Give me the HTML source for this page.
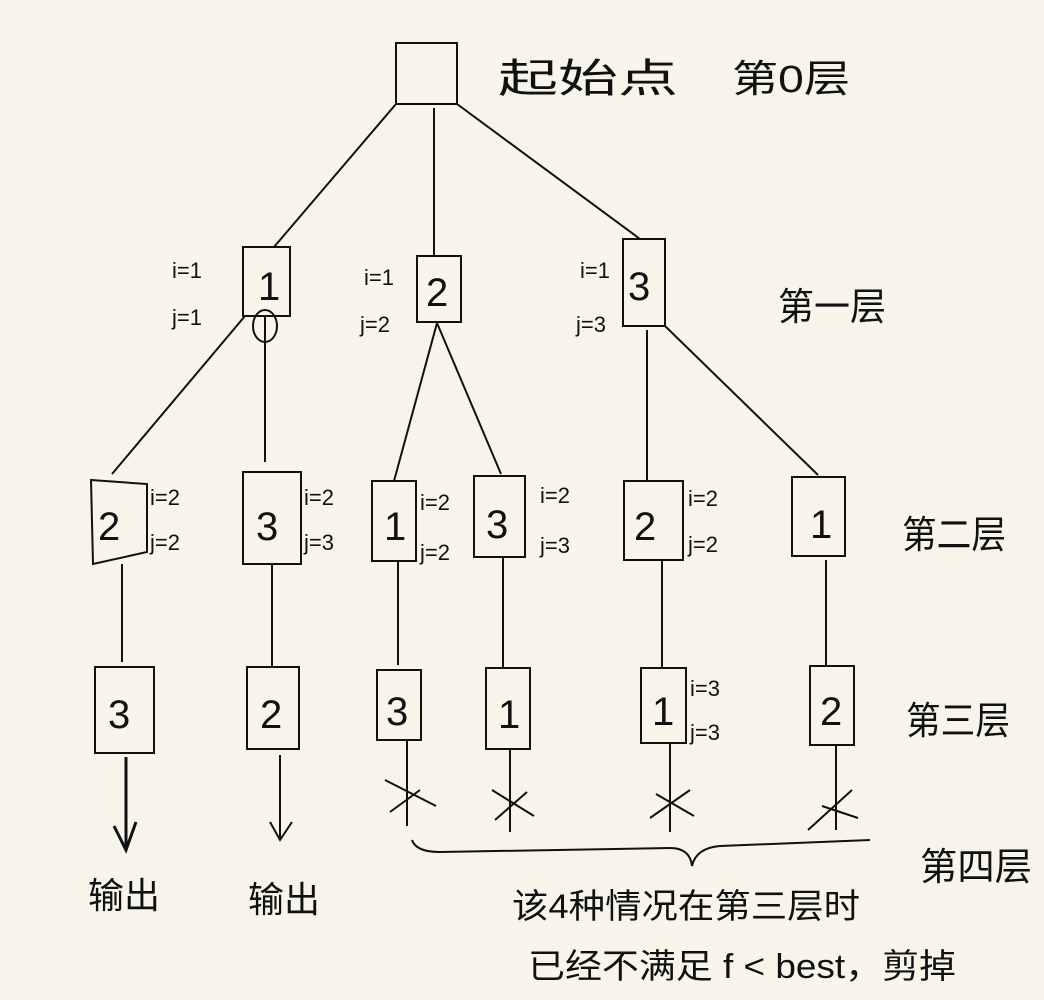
<!DOCTYPE html>
<html><head><meta charset="utf-8"><style>
html,body{margin:0;padding:0;background:#f7f5e9;}
svg{display:block}
text{font-family:"Liberation Sans","Noto Sans CJK SC",sans-serif;fill:#111}
</style></head><body>
<svg width="1044" height="1000" viewBox="0 0 1044 1000">
<rect width="1044" height="1000" fill="#f7f5e9"/>
<g fill="none" stroke="#111" stroke-width="2">
<rect x="396" y="43" width="61" height="61"/>
<rect x="243" y="247" width="47" height="69"/>
<rect x="417" y="256" width="44" height="66"/>
<rect x="623" y="239" width="42" height="87"/>
<polygon points="91,480 147,484 147,552 93,564"/>
<rect x="243" y="472" width="58" height="92"/>
<rect x="372" y="481" width="44" height="80"/>
<rect x="474" y="476" width="51" height="81"/>
<rect x="624" y="481" width="59" height="79"/>
<rect x="792" y="477" width="53" height="79"/>
<rect x="95" y="667" width="59" height="86"/>
<rect x="247" y="667" width="52" height="82"/>
<rect x="377" y="670" width="44" height="70"/>
<rect x="486" y="668" width="44" height="81"/>
<rect x="641" y="668" width="45" height="75"/>
<rect x="810" y="666" width="44" height="79"/>
<path d="M396 104 L274 247 M434 108 L434 256 M457 104 L640 239"/>
<path d="M245 316 L112 474 M265 316 L265 462"/>
<ellipse cx="265" cy="326" rx="12" ry="16"/>
<path d="M437 323 L394 481 M437 323 L501 474 M647 330 L647 481 M665 326 L818 475"/>
<path d="M122 564 L122 662 M272 564 L272 667 M398 561 L398 665 M503 557 L503 668 M662 560 L662 668 M826 560 L826 666"/>
<path d="M126 757 L126 850 M114 826 L126 850 L136 822" stroke-width="3"/>
<path d="M280 755 L280 840 M270 822 L280 840 L292 822"/>
<path d="M407 740 L407 826 M385 780 L436 806 M390 812 L420 790"/>
<path d="M510 749 L510 832 M492 790 L534 816 M495 820 L527 792"/>
<path d="M670 743 L670 832 M650 818 L690 790 M656 794 L694 816"/>
<path d="M836 745 L836 830 M808 830 L852 790 M822 806 L858 818"/>
<path d="M412 840 Q416 852 440 852 L670 848 Q690 848 692 866 Q696 848 720 846 L870 840"/>
</g>
<g font-size="40" font-weight="300">
<text x="258" y="300">1</text><text x="426" y="306">2</text><text x="628" y="300">3</text>
<text x="98" y="540">2</text><text x="256" y="540">3</text><text x="384" y="540">1</text>
<text x="486" y="538">3</text><text x="634" y="540">2</text><text x="810" y="538">1</text>
<text x="108" y="728">3</text><text x="260" y="728">2</text><text x="386" y="725">3</text>
<text x="498" y="728">1</text><text x="652" y="725">1</text><text x="820" y="725">2</text>
</g>
<g font-size="22">
<text x="172" y="278">i=1</text><text x="172" y="325">j=1</text>
<text x="364" y="285">i=1</text><text x="360" y="332">j=2</text>
<text x="580" y="278">i=1</text><text x="576" y="332">j=3</text>
<text x="150" y="505">i=2</text><text x="150" y="550">j=2</text>
<text x="304" y="505">i=2</text><text x="304" y="550">j=3</text>
<text x="420" y="510">i=2</text><text x="420" y="560">j=2</text>
<text x="540" y="503">i=2</text><text x="540" y="553">j=3</text>
<text x="688" y="506">i=2</text><text x="688" y="552">j=2</text>
<text x="690" y="696">i=3</text><text x="690" y="740">j=3</text>
</g>
<g font-size="40">
<text x="498" y="92" textLength="180" lengthAdjust="spacingAndGlyphs">起始点</text>
<text x="732" y="92" font-size="38" textLength="118" lengthAdjust="spacingAndGlyphs">第0层</text>
<text x="778" y="320" font-size="38" textLength="108" lengthAdjust="spacingAndGlyphs">第一层</text>
<text x="902" y="548" font-size="38" textLength="104" lengthAdjust="spacingAndGlyphs">第二层</text>
<text x="906" y="734" font-size="38" textLength="104" lengthAdjust="spacingAndGlyphs">第三层</text>
<text x="920" y="880" font-size="38" textLength="112" lengthAdjust="spacingAndGlyphs">第四层</text>
<text x="88" y="908" font-size="36">输出</text><text x="248" y="912" font-size="36">输出</text>
<text x="512" y="918" font-size="34" textLength="348" lengthAdjust="spacingAndGlyphs">该4种情况在第三层时</text>
<text x="528" y="978" font-size="34" textLength="428" lengthAdjust="spacingAndGlyphs">已经不满足 f &lt; best，剪掉</text>
</g>
</svg>
</body></html>
